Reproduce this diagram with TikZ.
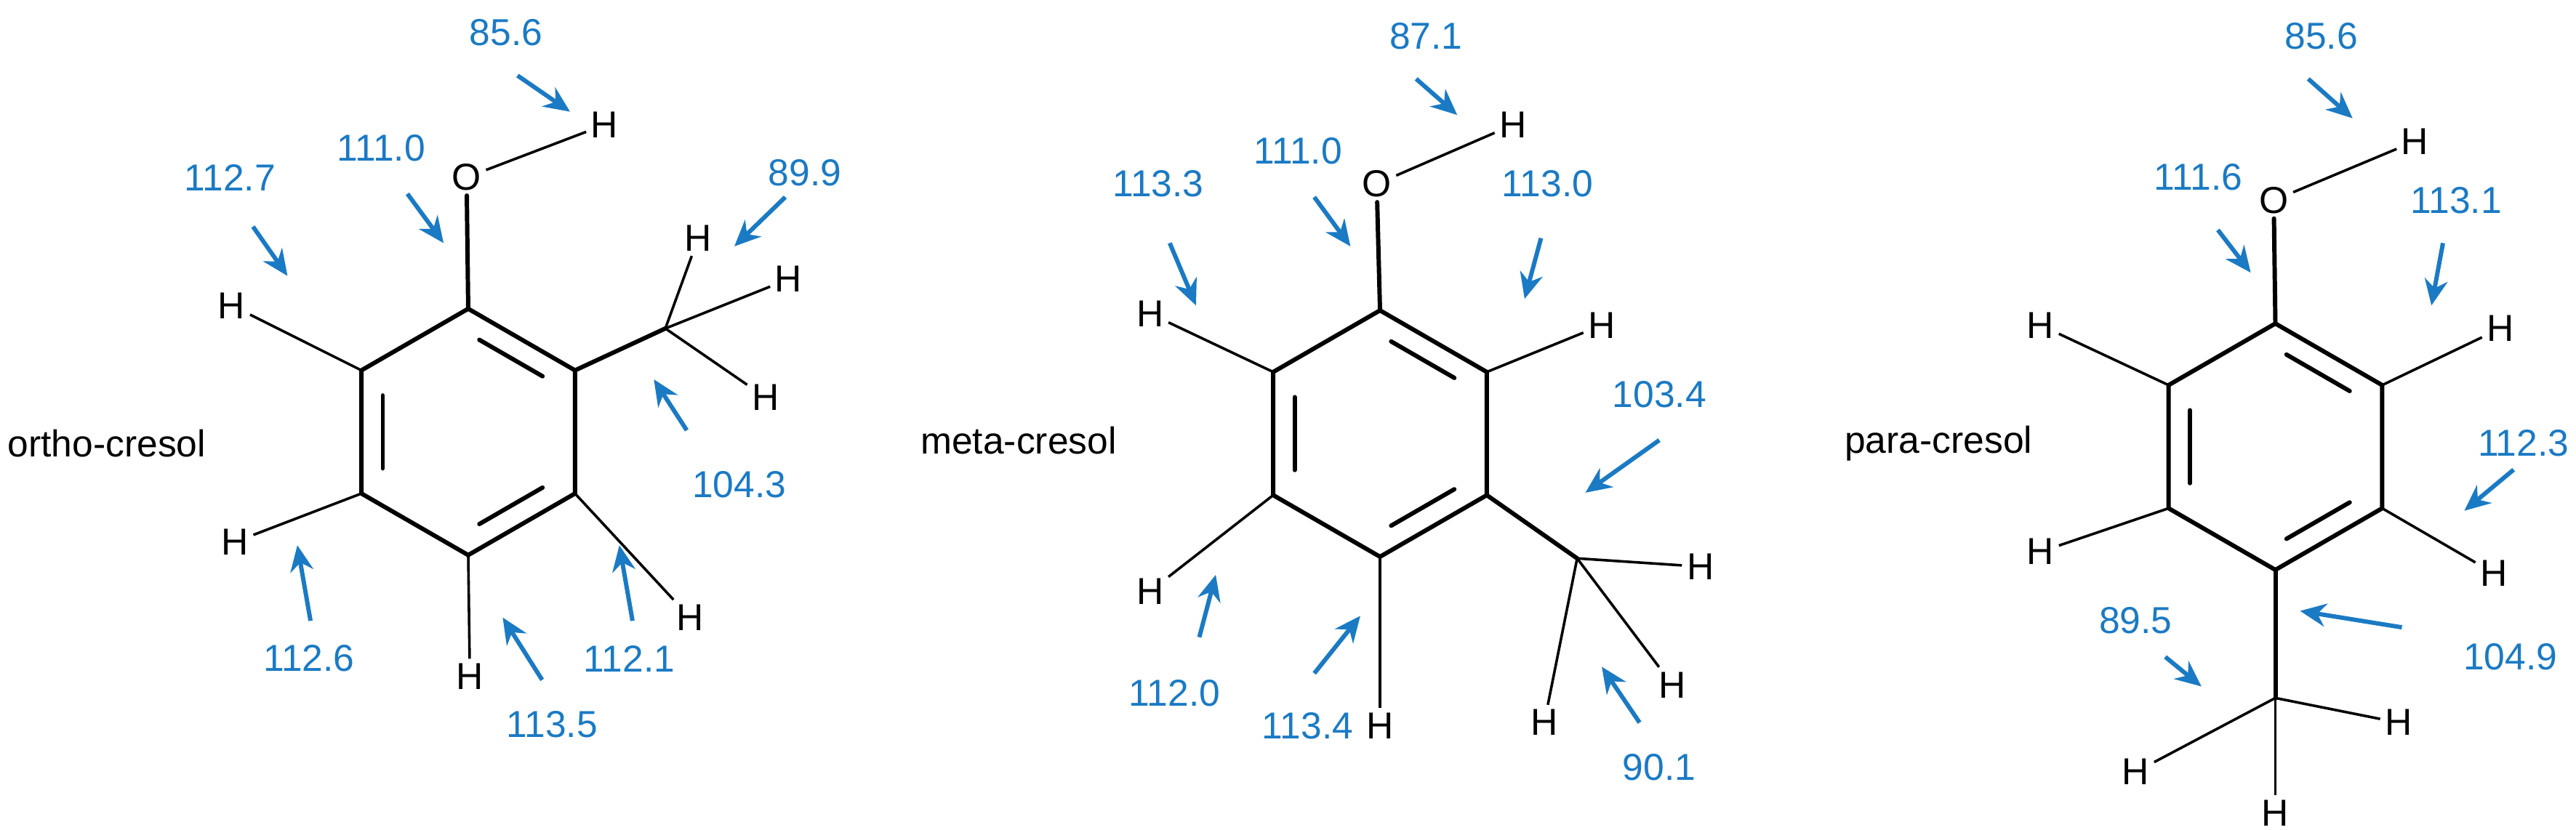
\documentclass[tikz,border=0pt]{standalone}
\usepackage{fontspec}
\setmainfont{Liberation Sans}
\usetikzlibrary{calc,arrows.meta}
\definecolor{lblue}{HTML}{1A7AC4}
\tikzset{
  ringbond/.style={line width=1.5pt,line cap=round},
  bond/.style={line width=0.9pt},
  atom/.style={inner sep=1.5pt,font=\fontsize{13}{15}\selectfont},
  val/.style={text=lblue,inner sep=1pt,font=\fontsize{13}{15}\selectfont},
  arr/.style={draw=lblue,line width=1.5pt,-{Stealth[length=9pt,width=8pt]}},
  lab/.style={font=\fontsize{13}{15}\selectfont}
}
\newcommand{\myring}[3]{%
  \coordinate (#1c) at (#2,#3);
  \coordinate (#11) at ($(#2,#3)+(0,-75)$);
  \coordinate (#12) at ($(#2,#3)+(65,-37.5)$);
  \coordinate (#13) at ($(#2,#3)+(65,37.5)$);
  \coordinate (#14) at ($(#2,#3)+(0,75)$);
  \coordinate (#15) at ($(#2,#3)+(-65,37.5)$);
  \coordinate (#16) at ($(#2,#3)+(-65,-37.5)$);
  \coordinate (#1i1) at ($(#2,#3)+(0,-60)$);
  \coordinate (#1i2) at ($(#2,#3)+(52,-30)$);
  \coordinate (#1i3) at ($(#2,#3)+(52,30)$);
  \coordinate (#1i4) at ($(#2,#3)+(0,60)$);
  \coordinate (#1i5) at ($(#2,#3)+(-52,30)$);
  \coordinate (#1i6) at ($(#2,#3)+(-52,-30)$);
  \draw[ringbond,line join=round] (#11)--(#12)--(#13)--(#14)--(#15)--(#16)--cycle;
  \draw[ringbond] ($(#1i1)!0.13!(#1i2)$)--($(#1i2)!0.13!(#1i1)$);
  \draw[ringbond] ($(#1i3)!0.13!(#1i4)$)--($(#1i4)!0.13!(#1i3)$);
  \draw[ringbond] ($(#1i5)!0.13!(#1i6)$)--($(#1i6)!0.13!(#1i5)$);
}
\begin{document}
\begin{tikzpicture}[x=0.02cm,y=-0.02cm]
\useasboundingbox (0,0) rectangle (1568,505);
% ---------- ortho ----------
\myring{a}{285}{263}
\node[lab] (alab) at (65,270) {ortho-cresol};
\node[atom] (aO) at (284,108) {O};
\node[atom] (aHO) at (368,76) {H};
\coordinate (aC) at (405,200);
\node[atom] (aH1) at (425,145) {H};
\node[atom] (aH2) at (480,170) {H};
\node[atom] (aH3) at (466,242) {H};
\node[atom] (aH4) at (141,186) {H};
\node[atom] (aH5) at (143,330) {H};
\node[atom] (aH6) at (286,412) {H};
\node[atom] (aH7) at (420,376) {H};
\draw[ringbond] (a1)--(aO);
\draw[bond] (aO)--(aHO);
\draw[ringbond] (a2)--(aC);
\draw[bond] (aC)--(aH1); \draw[bond] (aC)--(aH2); \draw[bond] (aC)--(aH3);
\draw[bond] (a6)--(aH4); \draw[bond] (a5)--(aH5);
\draw[bond] (a4)--(aH6); \draw[bond] (a3)--(aH7);
\node[val] (av1) at (308,20) {85.6};
\node[val] (av2) at (232,90) {111.0};
\node[val] (av3) at (140,108) {112.7};
\node[val] (av4) at (490,105) {89.9};
\node[val] (av5) at (450,295) {104.3};
\node[val] (av6) at (188,401) {112.6};
\node[val] (av7) at (336,441) {113.5};
\node[val] (av8) at (383,401) {112.1};
\draw[arr] (315,46)--(347,68);
\draw[arr] (248,118)--(270,148);
\draw[arr] (154,138)--(175,168);
\draw[arr] (478,120)--(447,150);
\draw[arr] (418,262)--(398,231);
\draw[arr] (189,378)--(181,332);
\draw[arr] (330,414)--(306,376);
\draw[arr] (385,378)--(377,332);
% ---------- meta ----------
\myring{b}{840}{264}
\node[lab] (blab) at (620,268) {meta-cresol};
\node[atom] (bO) at (838,112) {O};
\node[atom] (bHO) at (921,76) {H};
\coordinate (bC) at (960,340);
\node[atom] (bH1) at (1035,345) {H};
\node[atom] (bH2) at (1018,417) {H};
\node[atom] (bH3) at (940,440) {H};
\node[atom] (bH4) at (700,191) {H};
\node[atom] (bH5) at (975,198) {H};
\node[atom] (bH6) at (700,360) {H};
\node[atom] (bH7) at (840,442) {H};
\draw[ringbond] (b1)--(bO);
\draw[bond] (bO)--(bHO);
\draw[ringbond] (b3)--(bC);
\draw[bond] (bC)--(bH1); \draw[bond] (bC)--(bH2); \draw[bond] (bC)--(bH3);
\draw[bond] (b6)--(bH4); \draw[bond] (b2)--(bH5);
\draw[bond] (b5)--(bH6); \draw[bond] (b4)--(bH7);
\node[val] (bv1) at (868,22) {87.1};
\node[val] (bv2) at (790,92) {111.0};
\node[val] (bv3) at (705,112) {113.3};
\node[val] (bv4) at (942,112) {113.0};
\node[val] (bv5) at (1010,240) {103.4};
\node[val] (bv6) at (715,422) {112.0};
\node[val] (bv7) at (796,442) {113.4};
\node[val] (bv8) at (1010,467) {90.1};
\draw[arr] (862,48)--(887,70);
\draw[arr] (800,120)--(822,150);
\draw[arr] (712,148)--(728,186);
\draw[arr] (938,145)--(928,182);
\draw[arr] (1010,268)--(965,300);
\draw[arr] (730,388)--(740,350);
\draw[arr] (800,410)--(828,375);
\draw[arr] (998,440)--(975,406);
% ---------- para ----------
\myring{c}{1385}{272}
\node[lab] (clab) at (1180,270) {para-cresol};
\node[atom] (cO) at (1384,122) {O};
\node[atom] (cHO) at (1470,86) {H};
\coordinate (cC) at (1385,425);
\node[atom] (cH1) at (1300,470) {H};
\node[atom] (cH2) at (1460,440) {H};
\node[atom] (cH3) at (1385,495) {H};
\node[atom] (cH4) at (1242,198) {H};
\node[atom] (cH5) at (1242,336) {H};
\node[atom] (cH6) at (1522,200) {H};
\node[atom] (cH7) at (1518,349) {H};
\draw[ringbond] (c1)--(cO);
\draw[bond] (cO)--(cHO);
\draw[ringbond] (c4)--(cC);
\draw[bond] (cC)--(cH1); \draw[bond] (cC)--(cH2); \draw[bond] (cC)--(cH3);
\draw[bond] (c6)--(cH4); \draw[bond] (c5)--(cH5);
\draw[bond] (c2)--(cH6); \draw[bond] (c3)--(cH7);
\node[val] (cv1) at (1413,22) {85.6};
\node[val] (cv2) at (1338,108) {111.6};
\node[val] (cv3) at (1495,122) {113.1};
\node[val] (cv4) at (1536,270) {112.3};
\node[val] (cv5) at (1528,400) {104.9};
\node[val] (cv6) at (1300,378) {89.5};
\draw[arr] (1405,48)--(1432,72);
\draw[arr] (1350,140)--(1370,166);
\draw[arr] (1487,148)--(1480,186);
\draw[arr] (1530,286)--(1500,311);
\draw[arr] (1462,382)--(1400,372);
\draw[arr] (1318,400)--(1340,418);
\end{tikzpicture}
\end{document}
